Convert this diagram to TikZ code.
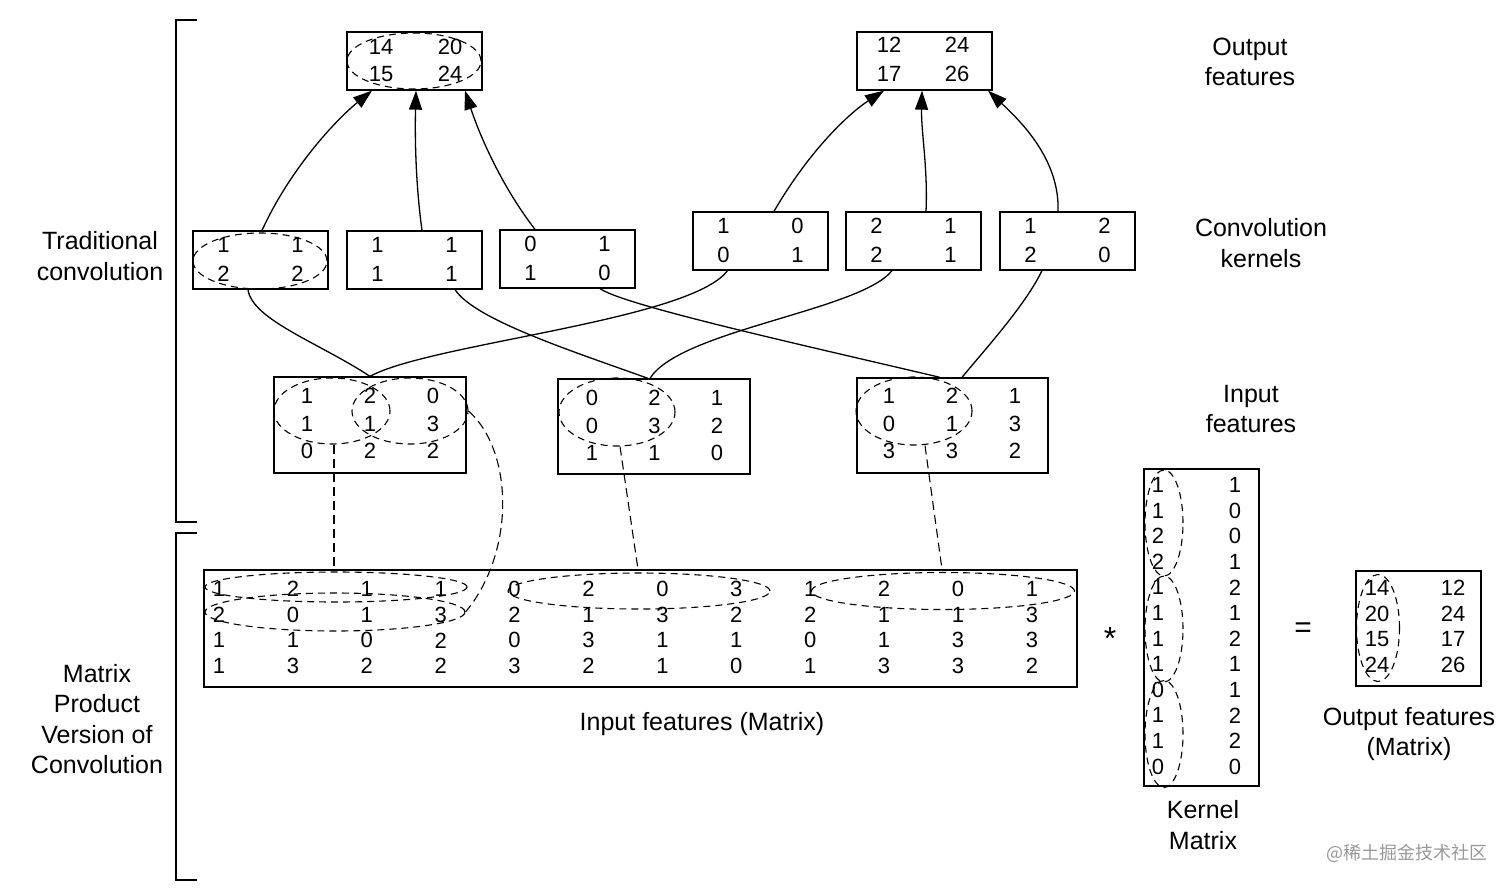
\documentclass[tikz,border=0pt]{standalone}
\usepackage{fontspec}
\setmainfont{Liberation Sans}
\newfontfamily\cjkfont{Noto Sans CJK SC}
\usetikzlibrary{shapes.geometric,arrows.meta,calc}
\newcommand\kmat[7]{%
  \node[box={135pt}{58pt}] (#1) at (#2,#3) {};
  \node[num] (#1-a) at (#2-37,#3-15) {#4};
  \node[num] (#1-b) at (#2+37,#3-15) {#5};
  \node[num] (#1-c) at (#2-37,#3+14) {#6};
  \node[num] (#1-d) at (#2+37,#3+14) {#7};}
\begin{document}
\begin{tikzpicture}[x=1pt,y=-1pt,
  box/.style 2 args={draw,line width=1.3pt,inner sep=0pt,minimum width=#1,minimum height=#2},
  num/.style={font=\fontsize{22}{24}\selectfont,inner sep=0pt},
  lbl/.style={font=\fontsize{25}{30.5}\selectfont,align=center,inner sep=0pt},
  dell/.style 2 args={ellipse,draw,dash pattern=on 7pt off 5pt,line width=1.1pt,inner sep=0pt,minimum width=#1,minimum height=#2},
  conn/.style={line width=1.3pt},
  arr/.style={line width=1.3pt,-{Triangle[length=19pt,width=13pt]}},
  dcon/.style={dash pattern=on 9pt off 5pt,line width=1.1pt}]
\fill[white] (0,0) rectangle (1512,889);
\useasboundingbox (0,0) rectangle (1512,889);

% brackets
\draw[line width=1.8pt] (197,20) -- (176,20) -- (176,522) -- (197,522);
\draw[line width=1.8pt] (197,533) -- (176,533) -- (176,880) -- (197,880);

% output features
\node[box={135pt}{58pt}] (O1) at (414.5,61) {};
\node[num] (O1-a) at (381,47) {14};
\node[num] (O1-b) at (450,47) {20};
\node[num] (O1-c) at (381,74) {15};
\node[num] (O1-d) at (450,74) {24};
\node[dell={134pt}{56pt}] (eO1) at (414,61) {};
\node[box={135pt}{58pt}] (O2) at (924.5,61) {};
\node[num] (O2-a) at (889,45) {12};
\node[num] (O2-b) at (957,45) {24};
\node[num] (O2-c) at (889,74) {17};
\node[num] (O2-d) at (957,74) {26};

% kernels
\kmat{K1}{260.5}{260}{1}{1}{2}{2}
\node[dell={134pt}{56pt}] (eK1) at (260,261) {};
\kmat{K2}{414.5}{260}{1}{1}{1}{1}
\kmat{K3}{567.5}{259}{0}{1}{1}{0}
\kmat{K4}{760.5}{241}{1}{0}{0}{1}
\kmat{K5}{913.5}{241}{2}{1}{2}{1}
\kmat{K6}{1067.5}{241}{1}{2}{2}{0}

% input features
\node[box={192pt}{96pt}] (I1) at (370,425) {};
\foreach \v [count=\i from 0] in {1,2,0,1,1,3,0,2,2} {
  \pgfmathtruncatemacro\r{int(\i/3)}\pgfmathtruncatemacro\c{mod(\i,3)}
  \node[num] (I1-\i) at ({307+63*\c},{396+27.5*\r}) {\v};}
\node[dell={116pt}{66pt}] (eI1a) at (332,411) {};
\node[dell={116pt}{66pt}] (eI1b) at (410,411) {};
\node[box={192pt}{95pt}] (I2) at (654,426.5) {};
\foreach \v [count=\i from 0] in {0,2,1,0,3,2,1,1,0} {
  \pgfmathtruncatemacro\r{int(\i/3)}\pgfmathtruncatemacro\c{mod(\i,3)}
  \node[num] (I2-\i) at ({592+62.5*\c},{398+27.5*\r}) {\v};}
\node[dell={116pt}{68pt}] (eI2) at (617,412) {};
\node[box={191pt}{95pt}] (I3) at (952.5,425.5) {};
\foreach \v [count=\i from 0] in {1,2,1,0,1,3,3,3,2} {
  \pgfmathtruncatemacro\r{int(\i/3)}\pgfmathtruncatemacro\c{mod(\i,3)}
  \node[num] (I3-\i) at ({889+63*\c},{396+27.5*\r}) {\v};}
\node[dell={116pt}{68pt}] (eI3) at (914,411) {};

% input matrix
\node[box={873pt}{117pt}] (M) at (640.5,628.5) {};
\foreach \row [count=\r] in {{1,2,1,1,0,2,0,3,1,2,0,1},{2,0,1,3,2,1,3,2,2,1,1,3},{1,1,0,2,0,3,1,1,0,1,3,3},{1,3,2,2,3,2,1,0,1,3,3,2}} {
  \foreach \v [count=\c] in \row {
    \node[num] (M-\r-\c) at ({219+73.9*(\c-1)},{589+25.7*(\r-1)}) {\v};}}
\node[dell={262pt}{30pt}] (eM1) at (336,587) {};
\node[dell={260pt}{38pt}] (eM2) at (335,612) {};
\node[dell={262pt}{36pt}] (eM3) at (639,591) {};
\node[dell={263pt}{37pt}] (eM4) at (943,591) {};
\node[lbl] (LM) at (702,724) {Input features (Matrix)};

% kernel matrix
\node[font=\fontsize{32}{34}\selectfont,inner sep=0pt] (star) at (1110,638) {*};
\node[box={115pt}{317pt}] (KM) at (1201.5,627.5) {};
\foreach \v [count=\r from 0] in {1,1,2,2,1,1,1,1,0,1,1,0} {
  \node[num] (KM-l\r) at (1158,{485+25.6*\r}) {\v};}
\foreach \v [count=\r from 0] in {1,0,0,1,2,1,2,1,1,2,2,0} {
  \node[num] (KM-r\r) at (1235,{485+25.6*\r}) {\v};}
\node[dell={38pt}{106pt}] (eKM1) at (1164,523) {};
\node[dell={38pt}{106pt}] (eKM2) at (1164,629) {};
\node[dell={38pt}{107pt}] (eKM3) at (1164,734) {};
\node[lbl] (LKM) at (1203,825) {Kernel\\Matrix};

% output matrix
\node[font=\fontsize{30}{32}\selectfont,inner sep=0pt] (eq) at (1303,630) {=};
\node[box={125pt}{115pt}] (OM) at (1418.5,628.5) {};
\foreach \v [count=\r from 0] in {14,20,15,24} {
  \node[num] (OM-l\r) at (1377,{588+25.7*\r}) {\v};}
\foreach \v [count=\r from 0] in {12,24,17,26} {
  \node[num] (OM-r\r) at (1453,{588+25.7*\r}) {\v};}
\node[dell={43pt}{107pt}] (eOM) at (1378,628) {};
\node[lbl] (LOM) at (1409,734) {Output features\\(Matrix)};

% side labels
\node[lbl] (Lout) at (1250,62) {Output\\features};
\node[lbl] (Lker) at (1261,243) {Convolution\\kernels};
\node[lbl] (Lin) at (1251,409) {Input\\features};
\node[lbl] (Ltrad) at (100,256) {Traditional\\convolution};
\node[lbl] (Lmat) at (97,719) {Matrix\\Product\\Version of\\Convolution};

% arrows kernels -> outputs
\draw[arr] ([xshift=1.5pt]K1.north) .. controls +(28,-61) and +(-37,30) .. ([xshift=-42.5pt]O1.south);
\draw[arr] ([xshift=7.5pt]K2.north) .. controls +(-7,-51) and +(-1,40) .. ([xshift=1.5pt]O1.south);
\draw[arr] ([xshift=-32.5pt]K3.north) .. controls +(-35,-45) and +(13,40) .. ([xshift=50.5pt]O1.south);
\draw[arr] ([xshift=13.5pt]K4.north) .. controls +(36,-62) and +(-34,22) .. ([xshift=-40.5pt]O2.south);
\draw[arr] ([xshift=12.5pt]K5.north) .. controls +(2,-42) and +(-1,40) .. ([xshift=-2.5pt]O2.south);
\draw[arr] ([xshift=-9.5pt]K6.north) .. controls +(2,-52) and +(32,30) .. ([xshift=63.5pt]O2.south);

% kernels -> input features
\draw[conn] ([xshift=-12.5pt]K1.south) .. controls +(4,30) and +(-50,-33) .. (I1.north);
\draw[conn] ([xshift=-33pt]K4.south) .. controls +(-37.5,50) and +(60,-33) .. (I1.north);
\draw[conn] ([xshift=40.5pt]K2.south) .. controls +(20,30) and +(-78,-28) .. ([xshift=-6pt]I2.north);
\draw[conn] ([xshift=-21.5pt]K5.south) .. controls +(-32,40) and +(30,-48) .. ([xshift=-4pt]I2.north);
\draw[conn] ([xshift=32.5pt]K3.south) .. controls +(25,17) and +(-140,-33) .. ([xshift=-12.5pt]I3.north);
\draw[conn] ([xshift=-25.5pt]K6.south) .. controls +(-17,35) and +(23,-28) .. ([xshift=9.5pt]I3.north);

% dashed links to matrix
\draw[dcon] ([xshift=2pt]eI1a.south) -- ([xshift=-306.5pt]M.north);
\draw[dcon] ([xshift=3pt]eI2.south) -- ([xshift=-2.5pt]M.north);
\draw[dcon] ([xshift=11pt]eI3.south) -- ([xshift=301.5pt]M.north);
\draw[dcon] (eI1b.east) .. controls +(45,40) and +(50,-60) .. (eM2.east);

% watermark
\node[font=\cjkfont\fontsize{18}{20}\selectfont,text=black!40,inner sep=0pt] (wm) at (1407,853) {@稀土掘金技术社区};
\end{tikzpicture}
\end{document}
